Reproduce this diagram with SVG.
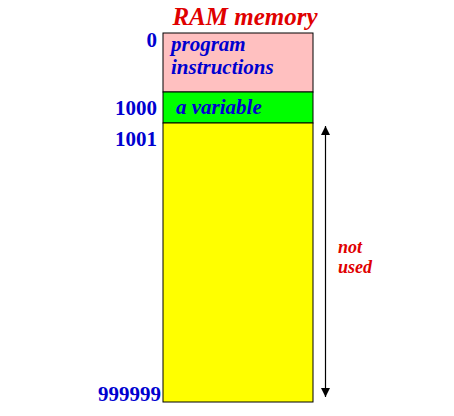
<svg xmlns="http://www.w3.org/2000/svg" width="454" height="416" viewBox="0 0 454 416">
<style>
.addr{font-family:"Liberation Serif",serif;font-weight:bold;font-size:21px;fill:#0000d0;text-anchor:end}
.lbl{font-family:"Liberation Serif",serif;font-weight:bold;font-style:italic;font-size:21px;fill:#0000d0}
.red{font-family:"Liberation Serif",serif;font-weight:bold;font-style:italic;fill:#e00000}
.box{stroke:#000;stroke-width:1}
</style>
<defs>
<marker id="ah" viewBox="0 0 10 10" refX="10" refY="5" markerWidth="9" markerHeight="14" markerUnits="userSpaceOnUse" orient="auto">
<path d="M0,0 L10,5 L0,10 Z" fill="#000"/>
</marker>
</defs>
<rect width="454" height="416" fill="#fff"/>
<text class="red" x="245" y="25" font-size="25" text-anchor="middle">RAM memory</text>
<g id="program">
<rect class="box" x="163" y="33" width="150" height="59" fill="#ffc0c0"/>
<text class="lbl" x="171" y="51">program</text>
<text class="lbl" x="171" y="74">instructions</text>
</g>
<g id="variable">
<rect class="box" x="163" y="92" width="150" height="31" fill="#00ff00"/>
<text class="lbl" x="176" y="114">a variable</text>
</g>
<g id="unused">
<rect class="box" x="163" y="123" width="150" height="279" fill="#ffff00"/>
</g>
<g id="addresses">
<text class="addr" x="157" y="47">0</text>
<text class="addr" x="157" y="115">1000</text>
<text class="addr" x="157" y="146">1001</text>
<text class="addr" x="161" y="401">999999</text>
</g>
<g id="connectors">
<line x1="325.5" y1="260" x2="325.5" y2="126" stroke="#000" stroke-width="1.2" marker-end="url(#ah)"/>
<line x1="325.5" y1="260" x2="325.5" y2="397" stroke="#000" stroke-width="1.2" marker-end="url(#ah)"/>
</g>
<g id="notused">
<text class="red" x="338" y="253" font-size="18">not</text>
<text class="red" x="338" y="273" font-size="18">used</text>
</g>
</svg>
